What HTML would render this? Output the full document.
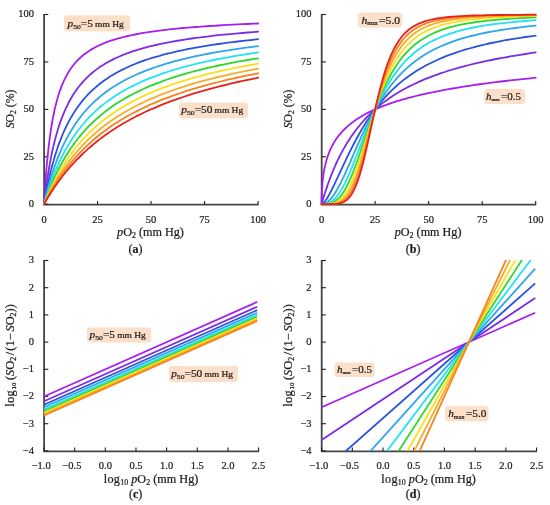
<!DOCTYPE html>
<html><head><meta charset="utf-8"><title>Figure</title><style>html,body{margin:0;padding:0;background:#fff}svg{display:block}</style></head><body>
<svg width="550" height="505" viewBox="0 0 550 505" font-family="'Liberation Serif', 'DejaVu Serif', serif" fill="#1c1c1c" stroke="#1c1c1c" stroke-width="0.22">
<rect width="550" height="505" fill="#fff" stroke="none"/>
<path d="M44.1 14.0V204.7H258.6" fill="none" stroke="#454545" stroke-width="1.8"/>
<path d="M44.00 204.2v-3.3" stroke="#202020" stroke-width="1.1"/>
<text transform="translate(44.00 222.50) scale(0.93 1)" font-size="11.3" text-anchor="middle">0</text>
<path d="M97.53 204.2v-3.3" stroke="#202020" stroke-width="1.1"/>
<text transform="translate(97.53 222.50) scale(0.93 1)" font-size="11.3" text-anchor="middle">25</text>
<path d="M151.05 204.2v-3.3" stroke="#202020" stroke-width="1.1"/>
<text transform="translate(151.05 222.50) scale(0.93 1)" font-size="11.3" text-anchor="middle">50</text>
<path d="M204.57 204.2v-3.3" stroke="#202020" stroke-width="1.1"/>
<text transform="translate(204.57 222.50) scale(0.93 1)" font-size="11.3" text-anchor="middle">75</text>
<path d="M258.10 204.2v-3.3" stroke="#202020" stroke-width="1.1"/>
<text transform="translate(258.10 222.50) scale(0.93 1)" font-size="11.3" text-anchor="middle">100</text>
<path d="M44 204.20h4.3" stroke="#202020" stroke-width="1.1"/>
<text transform="translate(34.00 207.10) scale(0.93 1)" font-size="11.3" text-anchor="end">0</text>
<path d="M44 156.77h4.3" stroke="#202020" stroke-width="1.1"/>
<text transform="translate(34.00 159.67) scale(0.93 1)" font-size="11.3" text-anchor="end">25</text>
<path d="M44 109.35h4.3" stroke="#202020" stroke-width="1.1"/>
<text transform="translate(34.00 112.25) scale(0.93 1)" font-size="11.3" text-anchor="end">50</text>
<path d="M44 61.93h4.3" stroke="#202020" stroke-width="1.1"/>
<text transform="translate(34.00 64.83) scale(0.93 1)" font-size="11.3" text-anchor="end">75</text>
<path d="M44 14.50h4.3" stroke="#202020" stroke-width="1.1"/>
<text transform="translate(34.00 17.40) scale(0.93 1)" font-size="11.3" text-anchor="end">100</text>
<path d="M44.0 204.2 44.0 204.0 44.0 203.3 44.1 202.1 44.2 200.3 44.4 197.9 44.6 194.9 44.8 191.4 45.0 187.4 45.4 182.9 45.7 178.2 46.1 173.1 46.5 167.8 47.0 162.3 47.6 156.8 48.2 151.1 48.8 145.6 49.5 140.0 50.2 134.6 51.0 129.3 51.8 124.1 52.7 119.1 53.7 114.3 54.6 109.6 55.7 105.2 56.8 100.9 57.9 96.9 59.1 93.1 60.4 89.4 61.7 85.9 63.1 82.6 64.5 79.5 66.0 76.6 67.6 73.8 69.1 71.1 70.8 68.6 72.5 66.3 74.3 64.0 76.1 61.9 78.0 59.9 80.0 58.0 82.0 56.2 84.0 54.5 86.2 52.9 88.3 51.4 90.6 49.9 92.9 48.6 95.3 47.3 97.7 46.0 100.2 44.9 102.8 43.7 105.4 42.7 108.0 41.7 110.8 40.7 113.6 39.8 116.5 38.9 119.4 38.1 122.4 37.3 125.4 36.5 128.6 35.8 131.7 35.1 135.0 34.5 138.3 33.8 141.7 33.2 145.1 32.7 148.6 32.1 152.2 31.6 155.9 31.1 159.6 30.6 163.3 30.1 167.2 29.7 171.1 29.2 175.0 28.8 179.1 28.4 183.2 28.0 187.4 27.7 191.6 27.3 195.9 27.0 200.3 26.7 204.7 26.3 209.2 26.0 213.8 25.8 218.5 25.5 223.2 25.2 227.9 24.9 232.8 24.7 237.7 24.4 242.7 24.2 247.8 24.0 252.9 23.7 258.1 23.5" fill="none" stroke="#A61EF0" stroke-width="1.8" stroke-linejoin="round" stroke-linecap="round"/>
<path d="M44.0 204.2 44.0 204.1 44.0 203.8 44.1 203.1 44.2 202.2 44.4 201.0 44.6 199.4 44.8 197.6 45.0 195.4 45.4 192.9 45.7 190.2 46.1 187.3 46.5 184.1 47.0 180.7 47.6 177.1 48.2 173.4 48.8 169.5 49.5 165.6 50.2 161.6 51.0 157.5 51.8 153.4 52.7 149.3 53.7 145.3 54.6 141.2 55.7 137.2 56.8 133.3 57.9 129.4 59.1 125.6 60.4 121.9 61.7 118.3 63.1 114.8 64.5 111.4 66.0 108.0 67.6 104.8 69.1 101.7 70.8 98.7 72.5 95.8 74.3 93.1 76.1 90.4 78.0 87.8 80.0 85.3 82.0 82.9 84.0 80.6 86.2 78.4 88.3 76.3 90.6 74.2 92.9 72.3 95.3 70.4 97.7 68.6 100.2 66.8 102.8 65.2 105.4 63.6 108.0 62.0 110.8 60.6 113.6 59.1 116.5 57.8 119.4 56.5 122.4 55.2 125.4 54.0 128.6 52.8 131.7 51.7 135.0 50.6 138.3 49.6 141.7 48.6 145.1 47.6 148.6 46.7 152.2 45.8 155.9 45.0 159.6 44.2 163.3 43.4 167.2 42.6 171.1 41.9 175.0 41.1 179.1 40.5 183.2 39.8 187.4 39.1 191.6 38.5 195.9 37.9 200.3 37.4 204.7 36.8 209.2 36.3 213.8 35.7 218.5 35.2 223.2 34.7 227.9 34.3 232.8 33.8 237.7 33.4 242.7 33.0 247.8 32.5 252.9 32.1 258.1 31.7" fill="none" stroke="#7A2CE6" stroke-width="1.8" stroke-linejoin="round" stroke-linecap="round"/>
<path d="M44.0 204.2 44.0 204.1 44.0 203.9 44.1 203.5 44.2 202.9 44.4 202.0 44.6 201.0 44.8 199.7 45.0 198.2 45.4 196.5 45.7 194.6 46.1 192.6 46.5 190.3 47.0 187.8 47.6 185.2 48.2 182.5 48.8 179.6 49.5 176.6 50.2 173.5 51.0 170.3 51.8 167.0 52.7 163.7 53.7 160.4 54.6 157.0 55.7 153.6 56.8 150.2 57.9 146.8 59.1 143.4 60.4 140.1 61.7 136.7 63.1 133.5 64.5 130.2 66.0 127.1 67.6 123.9 69.1 120.9 70.8 117.9 72.5 115.0 74.3 112.1 76.1 109.3 78.0 106.6 80.0 104.0 82.0 101.4 84.0 98.9 86.2 96.5 88.3 94.2 90.6 91.9 92.9 89.7 95.3 87.6 97.7 85.5 100.2 83.5 102.8 81.5 105.4 79.7 108.0 77.9 110.8 76.1 113.6 74.4 116.5 72.8 119.4 71.2 122.4 69.6 125.4 68.2 128.6 66.7 131.7 65.3 135.0 64.0 138.3 62.7 141.7 61.4 145.1 60.2 148.6 59.0 152.2 57.9 155.9 56.8 159.6 55.8 163.3 54.7 167.2 53.7 171.1 52.8 175.0 51.8 179.1 50.9 183.2 50.1 187.4 49.2 191.6 48.4 195.9 47.6 200.3 46.8 204.7 46.1 209.2 45.4 213.8 44.7 218.5 44.0 223.2 43.3 227.9 42.7 232.8 42.1 237.7 41.5 242.7 40.9 247.8 40.3 252.9 39.8 258.1 39.2" fill="none" stroke="#2A52E0" stroke-width="1.8" stroke-linejoin="round" stroke-linecap="round"/>
<path d="M44.0 204.2 44.0 204.2 44.0 204.0 44.1 203.7 44.2 203.2 44.4 202.6 44.6 201.8 44.8 200.8 45.0 199.7 45.4 198.4 45.7 196.9 46.1 195.3 46.5 193.6 47.0 191.6 47.6 189.6 48.2 187.4 48.8 185.1 49.5 182.7 50.2 180.2 51.0 177.6 51.8 174.9 52.7 172.1 53.7 169.3 54.6 166.4 55.7 163.5 56.8 160.6 57.9 157.6 59.1 154.6 60.4 151.6 61.7 148.7 63.1 145.7 64.5 142.7 66.0 139.8 67.6 136.9 69.1 134.0 70.8 131.2 72.5 128.4 74.3 125.6 76.1 122.9 78.0 120.2 80.0 117.6 82.0 115.0 84.0 112.5 86.2 110.1 88.3 107.7 90.6 105.3 92.9 103.1 95.3 100.8 97.7 98.7 100.2 96.5 102.8 94.5 105.4 92.5 108.0 90.5 110.8 88.6 113.6 86.8 116.5 85.0 119.4 83.2 122.4 81.5 125.4 79.9 128.6 78.3 131.7 76.7 135.0 75.2 138.3 73.7 141.7 72.3 145.1 70.9 148.6 69.6 152.2 68.3 155.9 67.0 159.6 65.8 163.3 64.6 167.2 63.4 171.1 62.3 175.0 61.2 179.1 60.2 183.2 59.1 187.4 58.1 191.6 57.2 195.9 56.2 200.3 55.3 204.7 54.4 209.2 53.5 213.8 52.7 218.5 51.9 223.2 51.1 227.9 50.3 232.8 49.6 237.7 48.8 242.7 48.1 247.8 47.4 252.9 46.8 258.1 46.1" fill="none" stroke="#2EA6EC" stroke-width="1.8" stroke-linejoin="round" stroke-linecap="round"/>
<path d="M44.0 204.2 44.0 204.2 44.0 204.0 44.1 203.8 44.2 203.4 44.4 202.9 44.6 202.3 44.8 201.5 45.0 200.6 45.4 199.5 45.7 198.3 46.1 197.0 46.5 195.6 47.0 194.0 47.6 192.3 48.2 190.5 48.8 188.6 49.5 186.6 50.2 184.5 51.0 182.3 51.8 180.0 52.7 177.6 53.7 175.2 54.6 172.7 55.7 170.2 56.8 167.6 57.9 165.0 59.1 162.4 60.4 159.7 61.7 157.0 63.1 154.3 64.5 151.6 66.0 148.9 67.6 146.2 69.1 143.6 70.8 140.9 72.5 138.3 74.3 135.6 76.1 133.1 78.0 130.5 80.0 128.0 82.0 125.5 84.0 123.0 86.2 120.6 88.3 118.2 90.6 115.9 92.9 113.6 95.3 111.4 97.7 109.2 100.2 107.0 102.8 104.9 105.4 102.9 108.0 100.9 110.8 98.9 113.6 97.0 116.5 95.1 119.4 93.3 122.4 91.5 125.4 89.7 128.6 88.0 131.7 86.4 135.0 84.8 138.3 83.2 141.7 81.6 145.1 80.2 148.6 78.7 152.2 77.3 155.9 75.9 159.6 74.6 163.3 73.2 167.2 72.0 171.1 70.7 175.0 69.5 179.1 68.3 183.2 67.2 187.4 66.1 191.6 65.0 195.9 63.9 200.3 62.9 204.7 61.9 209.2 60.9 213.8 60.0 218.5 59.0 223.2 58.1 227.9 57.3 232.8 56.4 237.7 55.6 242.7 54.8 247.8 54.0 252.9 53.2 258.1 52.4" fill="none" stroke="#22E2F2" stroke-width="1.8" stroke-linejoin="round" stroke-linecap="round"/>
<path d="M44.0 204.2 44.0 204.2 44.0 204.1 44.1 203.8 44.2 203.5 44.4 203.1 44.6 202.6 44.8 201.9 45.0 201.2 45.4 200.3 45.7 199.3 46.1 198.2 46.5 197.0 47.0 195.6 47.6 194.2 48.2 192.7 48.8 191.0 49.5 189.3 50.2 187.5 51.0 185.6 51.8 183.6 52.7 181.5 53.7 179.4 54.6 177.2 55.7 175.0 56.8 172.7 57.9 170.4 59.1 168.0 60.4 165.6 61.7 163.2 63.1 160.7 64.5 158.3 66.0 155.8 67.6 153.3 69.1 150.8 70.8 148.3 72.5 145.9 74.3 143.4 76.1 141.0 78.0 138.5 80.0 136.1 82.0 133.7 84.0 131.4 86.2 129.0 88.3 126.7 90.6 124.4 92.9 122.2 95.3 120.0 97.7 117.8 100.2 115.7 102.8 113.6 105.4 111.5 108.0 109.5 110.8 107.5 113.6 105.6 116.5 103.6 119.4 101.8 122.4 99.9 125.4 98.1 128.6 96.4 131.7 94.7 135.0 93.0 138.3 91.4 141.7 89.8 145.1 88.2 148.6 86.7 152.2 85.2 155.9 83.7 159.6 82.3 163.3 80.9 167.2 79.5 171.1 78.2 175.0 76.9 179.1 75.6 183.2 74.4 187.4 73.2 191.6 72.0 195.9 70.9 200.3 69.8 204.7 68.7 209.2 67.6 213.8 66.6 218.5 65.5 223.2 64.6 227.9 63.6 232.8 62.7 237.7 61.7 242.7 60.8 247.8 60.0 252.9 59.1 258.1 58.3" fill="none" stroke="#2CD82C" stroke-width="1.8" stroke-linejoin="round" stroke-linecap="round"/>
<path d="M44.0 204.2 44.0 204.2 44.0 204.1 44.1 203.9 44.2 203.6 44.4 203.3 44.6 202.8 44.8 202.3 45.0 201.6 45.4 200.8 45.7 200.0 46.1 199.0 46.5 198.0 47.0 196.8 47.6 195.6 48.2 194.2 48.8 192.8 49.5 191.3 50.2 189.7 51.0 188.0 51.8 186.3 52.7 184.4 53.7 182.6 54.6 180.6 55.7 178.6 56.8 176.5 57.9 174.4 59.1 172.3 60.4 170.1 61.7 167.9 63.1 165.7 64.5 163.4 66.0 161.1 67.6 158.8 69.1 156.5 70.8 154.2 72.5 151.9 74.3 149.6 76.1 147.3 78.0 145.0 80.0 142.7 82.0 140.4 84.0 138.1 86.2 135.9 88.3 133.7 90.6 131.5 92.9 129.3 95.3 127.1 97.7 125.0 100.2 122.9 102.8 120.8 105.4 118.8 108.0 116.8 110.8 114.8 113.6 112.9 116.5 110.9 119.4 109.1 122.4 107.2 125.4 105.4 128.6 103.6 131.7 101.9 135.0 100.2 138.3 98.5 141.7 96.8 145.1 95.2 148.6 93.7 152.2 92.1 155.9 90.6 159.6 89.1 163.3 87.7 167.2 86.3 171.1 84.9 175.0 83.5 179.1 82.2 183.2 80.9 187.4 79.6 191.6 78.4 195.9 77.2 200.3 76.0 204.7 74.8 209.2 73.7 213.8 72.6 218.5 71.5 223.2 70.4 227.9 69.4 232.8 68.4 237.7 67.4 242.7 66.4 247.8 65.5 252.9 64.6 258.1 63.7" fill="none" stroke="#F8E01C" stroke-width="1.8" stroke-linejoin="round" stroke-linecap="round"/>
<path d="M44.0 204.2 44.0 204.2 44.0 204.1 44.1 203.9 44.2 203.7 44.4 203.4 44.6 203.0 44.8 202.5 45.0 201.9 45.4 201.3 45.7 200.5 46.1 199.7 46.5 198.7 47.0 197.7 47.6 196.6 48.2 195.4 48.8 194.2 49.5 192.8 50.2 191.4 51.0 189.9 51.8 188.3 52.7 186.7 53.7 185.0 54.6 183.2 55.7 181.4 56.8 179.6 57.9 177.6 59.1 175.7 60.4 173.7 61.7 171.7 63.1 169.6 64.5 167.5 66.0 165.4 67.6 163.3 69.1 161.1 70.8 159.0 72.5 156.8 74.3 154.6 76.1 152.5 78.0 150.3 80.0 148.1 82.0 145.9 84.0 143.8 86.2 141.6 88.3 139.5 90.6 137.4 92.9 135.2 95.3 133.2 97.7 131.1 100.2 129.0 102.8 127.0 105.4 125.0 108.0 123.0 110.8 121.1 113.6 119.2 116.5 117.3 119.4 115.4 122.4 113.5 125.4 111.7 128.6 110.0 131.7 108.2 135.0 106.5 138.3 104.8 141.7 103.1 145.1 101.5 148.6 99.9 152.2 98.3 155.9 96.8 159.6 95.2 163.3 93.8 167.2 92.3 171.1 90.9 175.0 89.5 179.1 88.1 183.2 86.8 187.4 85.4 191.6 84.2 195.9 82.9 200.3 81.7 204.7 80.4 209.2 79.3 213.8 78.1 218.5 77.0 223.2 75.9 227.9 74.8 232.8 73.7 237.7 72.7 242.7 71.6 247.8 70.6 252.9 69.7 258.1 68.7" fill="none" stroke="#F6AE2A" stroke-width="1.8" stroke-linejoin="round" stroke-linecap="round"/>
<path d="M44.0 204.2 44.0 204.2 44.0 204.1 44.1 204.0 44.2 203.8 44.4 203.5 44.6 203.1 44.8 202.7 45.0 202.2 45.4 201.6 45.7 200.9 46.1 200.2 46.5 199.3 47.0 198.4 47.6 197.4 48.2 196.4 48.8 195.2 49.5 194.0 50.2 192.7 51.0 191.4 51.8 189.9 52.7 188.5 53.7 186.9 54.6 185.3 55.7 183.7 56.8 182.0 57.9 180.2 59.1 178.4 60.4 176.6 61.7 174.7 63.1 172.8 64.5 170.9 66.0 168.9 67.6 166.9 69.1 164.9 70.8 162.9 72.5 160.9 74.3 158.8 76.1 156.8 78.0 154.7 80.0 152.6 82.0 150.6 84.0 148.5 86.2 146.5 88.3 144.4 90.6 142.4 92.9 140.3 95.3 138.3 97.7 136.3 100.2 134.3 102.8 132.3 105.4 130.4 108.0 128.5 110.8 126.5 113.6 124.6 116.5 122.8 119.4 120.9 122.4 119.1 125.4 117.3 128.6 115.5 131.7 113.8 135.0 112.1 138.3 110.4 141.7 108.7 145.1 107.1 148.6 105.4 152.2 103.8 155.9 102.3 159.6 100.7 163.3 99.2 167.2 97.8 171.1 96.3 175.0 94.9 179.1 93.5 183.2 92.1 187.4 90.7 191.6 89.4 195.9 88.1 200.3 86.8 204.7 85.6 209.2 84.4 213.8 83.2 218.5 82.0 223.2 80.8 227.9 79.7 232.8 78.6 237.7 77.5 242.7 76.4 247.8 75.4 252.9 74.4 258.1 73.4" fill="none" stroke="#F8821E" stroke-width="1.8" stroke-linejoin="round" stroke-linecap="round"/>
<path d="M44.0 204.2 44.0 204.2 44.0 204.1 44.1 204.0 44.2 203.8 44.4 203.5 44.6 203.2 44.8 202.8 45.0 202.4 45.4 201.8 45.7 201.2 46.1 200.5 46.5 199.8 47.0 199.0 47.6 198.1 48.2 197.1 48.8 196.1 49.5 195.0 50.2 193.8 51.0 192.6 51.8 191.3 52.7 189.9 53.7 188.5 54.6 187.0 55.7 185.5 56.8 184.0 57.9 182.3 59.1 180.7 60.4 179.0 61.7 177.3 63.1 175.5 64.5 173.7 66.0 171.8 67.6 170.0 69.1 168.1 70.8 166.2 72.5 164.3 74.3 162.4 76.1 160.4 78.0 158.5 80.0 156.5 82.0 154.5 84.0 152.6 86.2 150.6 88.3 148.6 90.6 146.7 92.9 144.7 95.3 142.8 97.7 140.8 100.2 138.9 102.8 137.0 105.4 135.1 108.0 133.2 110.8 131.3 113.6 129.5 116.5 127.6 119.4 125.8 122.4 124.0 125.4 122.2 128.6 120.5 131.7 118.8 135.0 117.0 138.3 115.4 141.7 113.7 145.1 112.0 148.6 110.4 152.2 108.8 155.9 107.3 159.6 105.7 163.3 104.2 167.2 102.7 171.1 101.2 175.0 99.8 179.1 98.4 183.2 97.0 187.4 95.6 191.6 94.2 195.9 92.9 200.3 91.6 204.7 90.3 209.2 89.1 213.8 87.9 218.5 86.6 223.2 85.5 227.9 84.3 232.8 83.1 237.7 82.0 242.7 80.9 247.8 79.8 252.9 78.8 258.1 77.7" fill="none" stroke="#E8221E" stroke-width="1.8" stroke-linejoin="round" stroke-linecap="round"/>
<text transform="translate(150.50 236.30) scale(1.04 1)" font-size="11.7" text-anchor="middle"><tspan font-style="italic">p</tspan>O<tspan font-size="7.6" dy="2">2</tspan><tspan dy="-2"> (mm Hg)</tspan></text>
<text transform="translate(13.90 109.00) rotate(-90)" font-size="11.7" text-anchor="middle"><tspan font-style="italic">S</tspan>O<tspan font-size="7.6" dy="2">2</tspan><tspan dy="-2"> (%)</tspan></text>
<text transform="translate(135.60 252.60)" font-size="12" text-anchor="middle">(<tspan font-weight="bold">a</tspan>)</text>
<path d="M321.70000000000005 14.0V204.7H536.2" fill="none" stroke="#454545" stroke-width="1.8"/>
<path d="M321.60 204.2v-3.3" stroke="#202020" stroke-width="1.1"/>
<text transform="translate(321.60 222.50) scale(0.93 1)" font-size="11.3" text-anchor="middle">0</text>
<path d="M375.12 204.2v-3.3" stroke="#202020" stroke-width="1.1"/>
<text transform="translate(375.12 222.50) scale(0.93 1)" font-size="11.3" text-anchor="middle">25</text>
<path d="M428.65 204.2v-3.3" stroke="#202020" stroke-width="1.1"/>
<text transform="translate(428.65 222.50) scale(0.93 1)" font-size="11.3" text-anchor="middle">50</text>
<path d="M482.18 204.2v-3.3" stroke="#202020" stroke-width="1.1"/>
<text transform="translate(482.18 222.50) scale(0.93 1)" font-size="11.3" text-anchor="middle">75</text>
<path d="M535.70 204.2v-3.3" stroke="#202020" stroke-width="1.1"/>
<text transform="translate(535.70 222.50) scale(0.93 1)" font-size="11.3" text-anchor="middle">100</text>
<path d="M321.6 204.20h4.3" stroke="#202020" stroke-width="1.1"/>
<text transform="translate(311.60 207.10) scale(0.93 1)" font-size="11.3" text-anchor="end">0</text>
<path d="M321.6 156.77h4.3" stroke="#202020" stroke-width="1.1"/>
<text transform="translate(311.60 159.67) scale(0.93 1)" font-size="11.3" text-anchor="end">25</text>
<path d="M321.6 109.35h4.3" stroke="#202020" stroke-width="1.1"/>
<text transform="translate(311.60 112.25) scale(0.93 1)" font-size="11.3" text-anchor="end">50</text>
<path d="M321.6 61.93h4.3" stroke="#202020" stroke-width="1.1"/>
<text transform="translate(311.60 64.83) scale(0.93 1)" font-size="11.3" text-anchor="end">75</text>
<path d="M321.6 14.50h4.3" stroke="#202020" stroke-width="1.1"/>
<text transform="translate(311.60 17.40) scale(0.93 1)" font-size="11.3" text-anchor="end">100</text>
<path d="M321.6 204.2 321.6 201.5 321.6 198.6 321.7 195.6 321.8 192.6 322.0 189.6 322.2 186.7 322.4 183.8 322.6 181.0 323.0 178.2 323.3 175.5 323.7 172.8 324.1 170.2 324.6 167.7 325.2 165.3 325.8 162.9 326.4 160.5 327.1 158.2 327.8 156.0 328.6 153.8 329.4 151.7 330.3 149.7 331.3 147.7 332.2 145.7 333.3 143.8 334.4 141.9 335.5 140.1 336.7 138.3 338.0 136.6 339.3 134.9 340.7 133.3 342.1 131.7 343.6 130.1 345.2 128.5 346.7 127.1 348.4 125.6 350.1 124.2 351.9 122.8 353.7 121.4 355.6 120.1 357.6 118.8 359.6 117.5 361.6 116.2 363.8 115.0 365.9 113.8 368.2 112.6 370.5 111.5 372.9 110.4 375.3 109.3 377.8 108.2 380.4 107.1 383.0 106.1 385.6 105.1 388.4 104.1 391.2 103.1 394.1 102.2 397.0 101.2 400.0 100.3 403.0 99.4 406.2 98.6 409.3 97.7 412.6 96.8 415.9 96.0 419.3 95.2 422.7 94.4 426.2 93.6 429.8 92.8 433.5 92.1 437.2 91.3 440.9 90.6 444.8 89.9 448.7 89.2 452.6 88.5 456.7 87.8 460.8 87.1 465.0 86.4 469.2 85.8 473.5 85.2 477.9 84.5 482.3 83.9 486.8 83.3 491.4 82.7 496.1 82.1 500.8 81.5 505.5 81.0 510.4 80.4 515.3 79.9 520.3 79.3 525.4 78.8 530.5 78.3 535.7 77.7" fill="none" stroke="#A61EF0" stroke-width="1.8" stroke-linejoin="round" stroke-linecap="round"/>
<path d="M321.6 204.2 321.6 204.2 321.6 204.0 321.7 203.8 321.8 203.4 322.0 202.9 322.2 202.3 322.4 201.5 322.6 200.6 323.0 199.5 323.3 198.3 323.7 197.0 324.1 195.6 324.6 194.0 325.2 192.3 325.8 190.5 326.4 188.6 327.1 186.6 327.8 184.5 328.6 182.3 329.4 180.0 330.3 177.6 331.3 175.2 332.2 172.7 333.3 170.2 334.4 167.6 335.5 165.0 336.7 162.4 338.0 159.7 339.3 157.0 340.7 154.3 342.1 151.6 343.6 148.9 345.2 146.2 346.7 143.6 348.4 140.9 350.1 138.3 351.9 135.6 353.7 133.1 355.6 130.5 357.6 128.0 359.6 125.5 361.6 123.0 363.8 120.6 365.9 118.2 368.2 115.9 370.5 113.6 372.9 111.4 375.3 109.2 377.8 107.0 380.4 104.9 383.0 102.9 385.6 100.9 388.4 98.9 391.2 97.0 394.1 95.1 397.0 93.3 400.0 91.5 403.0 89.7 406.2 88.0 409.3 86.4 412.6 84.8 415.9 83.2 419.3 81.6 422.7 80.2 426.2 78.7 429.8 77.3 433.5 75.9 437.2 74.6 440.9 73.2 444.8 72.0 448.7 70.7 452.6 69.5 456.7 68.3 460.8 67.2 465.0 66.1 469.2 65.0 473.5 63.9 477.9 62.9 482.3 61.9 486.8 60.9 491.4 60.0 496.1 59.0 500.8 58.1 505.5 57.3 510.4 56.4 515.3 55.6 520.3 54.8 525.4 54.0 530.5 53.2 535.7 52.4" fill="none" stroke="#7A2CE6" stroke-width="1.8" stroke-linejoin="round" stroke-linecap="round"/>
<path d="M321.6 204.2 321.6 204.2 321.6 204.2 321.7 204.2 321.8 204.1 322.0 204.1 322.2 204.0 322.4 203.9 322.6 203.7 323.0 203.4 323.3 203.1 323.7 202.7 324.1 202.3 324.6 201.7 325.2 201.0 325.8 200.2 326.4 199.3 327.1 198.2 327.8 197.0 328.6 195.6 329.4 194.2 330.3 192.5 331.3 190.7 332.2 188.7 333.3 186.6 334.4 184.4 335.5 181.9 336.7 179.4 338.0 176.7 339.3 173.8 340.7 170.9 342.1 167.8 343.6 164.6 345.2 161.3 346.7 158.0 348.4 154.6 350.1 151.1 351.9 147.6 353.7 144.0 355.6 140.4 357.6 136.8 359.6 133.3 361.6 129.7 363.8 126.1 365.9 122.6 368.2 119.2 370.5 115.8 372.9 112.4 375.3 109.1 377.8 105.9 380.4 102.7 383.0 99.7 385.6 96.7 388.4 93.7 391.2 90.9 394.1 88.2 397.0 85.5 400.0 82.9 403.0 80.4 406.2 78.0 409.3 75.7 412.6 73.5 415.9 71.3 419.3 69.2 422.7 67.2 426.2 65.3 429.8 63.5 433.5 61.7 437.2 60.0 440.9 58.3 444.8 56.7 448.7 55.2 452.6 53.8 456.7 52.4 460.8 51.0 465.0 49.7 469.2 48.5 473.5 47.3 477.9 46.2 482.3 45.1 486.8 44.0 491.4 43.0 496.1 42.1 500.8 41.1 505.5 40.2 510.4 39.4 515.3 38.6 520.3 37.8 525.4 37.0 530.5 36.3 535.7 35.6" fill="none" stroke="#2A52E0" stroke-width="1.8" stroke-linejoin="round" stroke-linecap="round"/>
<path d="M321.6 204.2 321.6 204.2 321.6 204.2 321.7 204.2 321.8 204.2 322.0 204.2 322.2 204.2 322.4 204.2 322.6 204.1 323.0 204.1 323.3 204.0 323.7 203.9 324.1 203.8 324.6 203.6 325.2 203.4 325.8 203.1 326.4 202.7 327.1 202.2 327.8 201.7 328.6 201.0 329.4 200.2 330.3 199.3 331.3 198.2 332.2 197.0 333.3 195.6 334.4 194.0 335.5 192.2 336.7 190.1 338.0 187.9 339.3 185.5 340.7 182.8 342.1 179.9 343.6 176.8 345.2 173.4 346.7 169.9 348.4 166.2 350.1 162.3 351.9 158.2 353.7 154.0 355.6 149.6 357.6 145.2 359.6 140.7 361.6 136.1 363.8 131.6 365.9 127.0 368.2 122.4 370.5 117.9 372.9 113.4 375.3 109.0 377.8 104.7 380.4 100.5 383.0 96.5 385.6 92.5 388.4 88.7 391.2 85.0 394.1 81.5 397.0 78.1 400.0 74.8 403.0 71.7 406.2 68.8 409.3 65.9 412.6 63.3 415.9 60.7 419.3 58.3 422.7 56.0 426.2 53.8 429.8 51.8 433.5 49.8 437.2 48.0 440.9 46.3 444.8 44.6 448.7 43.1 452.6 41.6 456.7 40.2 460.8 38.9 465.0 37.7 469.2 36.5 473.5 35.5 477.9 34.4 482.3 33.4 486.8 32.5 491.4 31.6 496.1 30.8 500.8 30.0 505.5 29.3 510.4 28.6 515.3 28.0 520.3 27.3 525.4 26.7 530.5 26.2 535.7 25.7" fill="none" stroke="#2EA6EC" stroke-width="1.8" stroke-linejoin="round" stroke-linecap="round"/>
<path d="M321.6 204.2 321.6 204.2 321.6 204.2 321.7 204.2 321.8 204.2 322.0 204.2 322.2 204.2 322.4 204.2 322.6 204.2 323.0 204.2 323.3 204.2 323.7 204.1 324.1 204.1 324.6 204.1 325.2 204.0 325.8 203.9 326.4 203.7 327.1 203.6 327.8 203.3 328.6 203.0 329.4 202.7 330.3 202.2 331.3 201.6 332.2 200.9 333.3 200.1 334.4 199.1 335.5 197.9 336.7 196.5 338.0 194.8 339.3 192.9 340.7 190.8 342.1 188.4 343.6 185.6 345.2 182.6 346.7 179.3 348.4 175.6 350.1 171.6 351.9 167.4 353.7 162.8 355.6 158.0 357.6 153.0 359.6 147.7 361.6 142.3 363.8 136.8 365.9 131.2 368.2 125.6 370.5 120.0 372.9 114.4 375.3 109.0 377.8 103.6 380.4 98.4 383.0 93.3 385.6 88.4 388.4 83.8 391.2 79.3 394.1 75.1 397.0 71.1 400.0 67.3 403.0 63.7 406.2 60.4 409.3 57.2 412.6 54.3 415.9 51.5 419.3 49.0 422.7 46.6 426.2 44.4 429.8 42.3 433.5 40.4 437.2 38.7 440.9 37.0 444.8 35.5 448.7 34.1 452.6 32.8 456.7 31.6 460.8 30.4 465.0 29.4 469.2 28.4 473.5 27.5 477.9 26.7 482.3 25.9 486.8 25.2 491.4 24.5 496.1 23.9 500.8 23.3 505.5 22.8 510.4 22.3 515.3 21.8 520.3 21.4 525.4 21.0 530.5 20.6 535.7 20.2" fill="none" stroke="#22E2F2" stroke-width="1.8" stroke-linejoin="round" stroke-linecap="round"/>
<path d="M321.6 204.2 321.6 204.2 321.6 204.2 321.7 204.2 321.8 204.2 322.0 204.2 322.2 204.2 322.4 204.2 322.6 204.2 323.0 204.2 323.3 204.2 323.7 204.2 324.1 204.2 324.6 204.2 325.2 204.1 325.8 204.1 326.4 204.1 327.1 204.0 327.8 203.9 328.6 203.8 329.4 203.6 330.3 203.4 331.3 203.1 332.2 202.7 333.3 202.2 334.4 201.6 335.5 200.9 336.7 200.0 338.0 198.9 339.3 197.6 340.7 196.0 342.1 194.1 343.6 191.9 345.2 189.3 346.7 186.4 348.4 183.0 350.1 179.3 351.9 175.1 353.7 170.5 355.6 165.5 357.6 160.1 359.6 154.3 361.6 148.2 363.8 141.9 365.9 135.4 368.2 128.8 370.5 122.1 372.9 115.5 375.3 108.9 377.8 102.4 380.4 96.2 383.0 90.2 385.6 84.4 388.4 79.0 391.2 73.8 394.1 69.0 397.0 64.5 400.0 60.3 403.0 56.4 406.2 52.9 409.3 49.6 412.6 46.6 415.9 43.8 419.3 41.3 422.7 39.0 426.2 36.9 429.8 35.0 433.5 33.2 437.2 31.6 440.9 30.2 444.8 28.9 448.7 27.7 452.6 26.6 456.7 25.6 460.8 24.7 465.0 23.9 469.2 23.1 473.5 22.5 477.9 21.8 482.3 21.3 486.8 20.7 491.4 20.3 496.1 19.8 500.8 19.4 505.5 19.1 510.4 18.7 515.3 18.4 520.3 18.1 525.4 17.9 530.5 17.6 535.7 17.4" fill="none" stroke="#2CD82C" stroke-width="1.8" stroke-linejoin="round" stroke-linecap="round"/>
<path d="M321.6 204.2 321.6 204.2 321.6 204.2 321.7 204.2 321.8 204.2 322.0 204.2 322.2 204.2 322.4 204.2 322.6 204.2 323.0 204.2 323.3 204.2 323.7 204.2 324.1 204.2 324.6 204.2 325.2 204.2 325.8 204.2 326.4 204.2 327.1 204.1 327.8 204.1 328.6 204.0 329.4 204.0 330.3 203.9 331.3 203.7 332.2 203.5 333.3 203.3 334.4 202.9 335.5 202.5 336.7 201.9 338.0 201.2 339.3 200.3 340.7 199.2 342.1 197.8 343.6 196.1 345.2 194.1 346.7 191.6 348.4 188.7 350.1 185.3 351.9 181.4 353.7 177.0 355.6 172.0 357.6 166.4 359.6 160.4 361.6 153.8 363.8 146.8 365.9 139.5 368.2 131.9 370.5 124.2 372.9 116.5 375.3 108.8 377.8 101.3 380.4 94.0 383.0 87.1 385.6 80.5 388.4 74.3 391.2 68.6 394.1 63.3 397.0 58.5 400.0 54.0 403.0 50.0 406.2 46.4 409.3 43.1 412.6 40.1 415.9 37.5 419.3 35.1 422.7 33.0 426.2 31.1 429.8 29.4 433.5 27.9 437.2 26.5 440.9 25.3 444.8 24.2 448.7 23.3 452.6 22.4 456.7 21.6 460.8 21.0 465.0 20.3 469.2 19.8 473.5 19.3 477.9 18.9 482.3 18.5 486.8 18.1 491.4 17.8 496.1 17.5 500.8 17.2 505.5 17.0 510.4 16.8 515.3 16.6 520.3 16.4 525.4 16.2 530.5 16.1 535.7 16.0" fill="none" stroke="#F8E01C" stroke-width="1.8" stroke-linejoin="round" stroke-linecap="round"/>
<path d="M321.6 204.2 321.6 204.2 321.6 204.2 321.7 204.2 321.8 204.2 322.0 204.2 322.2 204.2 322.4 204.2 322.6 204.2 323.0 204.2 323.3 204.2 323.7 204.2 324.1 204.2 324.6 204.2 325.2 204.2 325.8 204.2 326.4 204.2 327.1 204.2 327.8 204.2 328.6 204.1 329.4 204.1 330.3 204.1 331.3 204.0 332.2 203.9 333.3 203.8 334.4 203.6 335.5 203.3 336.7 203.0 338.0 202.5 339.3 201.9 340.7 201.2 342.1 200.2 343.6 198.9 345.2 197.3 346.7 195.4 348.4 193.0 350.1 190.0 351.9 186.6 353.7 182.4 355.6 177.6 357.6 172.1 359.6 165.9 361.6 159.0 363.8 151.5 365.9 143.4 368.2 135.0 370.5 126.3 372.9 117.5 375.3 108.7 377.8 100.1 380.4 91.9 383.0 84.0 385.6 76.7 388.4 69.9 391.2 63.7 394.1 58.0 397.0 52.9 400.0 48.4 403.0 44.3 406.2 40.7 409.3 37.6 412.6 34.8 415.9 32.3 419.3 30.2 422.7 28.3 426.2 26.7 429.8 25.2 433.5 24.0 437.2 22.8 440.9 21.9 444.8 21.0 448.7 20.3 452.6 19.6 456.7 19.1 460.8 18.6 465.0 18.1 469.2 17.7 473.5 17.4 477.9 17.1 482.3 16.8 486.8 16.6 491.4 16.4 496.1 16.2 500.8 16.0 505.5 15.9 510.4 15.7 515.3 15.6 520.3 15.5 525.4 15.4 530.5 15.3 535.7 15.2" fill="none" stroke="#F6AE2A" stroke-width="1.8" stroke-linejoin="round" stroke-linecap="round"/>
<path d="M321.6 204.2 321.6 204.2 321.6 204.2 321.7 204.2 321.8 204.2 322.0 204.2 322.2 204.2 322.4 204.2 322.6 204.2 323.0 204.2 323.3 204.2 323.7 204.2 324.1 204.2 324.6 204.2 325.2 204.2 325.8 204.2 326.4 204.2 327.1 204.2 327.8 204.2 328.6 204.2 329.4 204.2 330.3 204.1 331.3 204.1 332.2 204.1 333.3 204.0 334.4 203.9 335.5 203.8 336.7 203.6 338.0 203.3 339.3 202.9 340.7 202.4 342.1 201.7 343.6 200.8 345.2 199.6 346.7 198.1 348.4 196.1 350.1 193.7 351.9 190.6 353.7 186.9 355.6 182.4 357.6 177.1 359.6 170.9 361.6 163.8 363.8 155.9 365.9 147.3 368.2 138.0 370.5 128.4 372.9 118.5 375.3 108.6 377.8 99.0 380.4 89.8 383.0 81.1 385.6 73.0 388.4 65.7 391.2 59.1 394.1 53.2 397.0 48.0 400.0 43.4 403.0 39.4 406.2 36.0 409.3 33.0 412.6 30.5 415.9 28.3 419.3 26.4 422.7 24.7 426.2 23.4 429.8 22.2 433.5 21.1 437.2 20.3 440.9 19.5 444.8 18.9 448.7 18.3 452.6 17.8 456.7 17.4 460.8 17.0 465.0 16.7 469.2 16.5 473.5 16.2 477.9 16.0 482.3 15.8 486.8 15.7 491.4 15.5 496.1 15.4 500.8 15.3 505.5 15.2 510.4 15.2 515.3 15.1 520.3 15.0 525.4 15.0 530.5 14.9 535.7 14.9" fill="none" stroke="#F8821E" stroke-width="1.8" stroke-linejoin="round" stroke-linecap="round"/>
<path d="M321.6 204.2 321.6 204.2 321.6 204.2 321.7 204.2 321.8 204.2 322.0 204.2 322.2 204.2 322.4 204.2 322.6 204.2 323.0 204.2 323.3 204.2 323.7 204.2 324.1 204.2 324.6 204.2 325.2 204.2 325.8 204.2 326.4 204.2 327.1 204.2 327.8 204.2 328.6 204.2 329.4 204.2 330.3 204.2 331.3 204.2 332.2 204.1 333.3 204.1 334.4 204.1 335.5 204.0 336.7 203.9 338.0 203.7 339.3 203.4 340.7 203.1 342.1 202.6 343.6 202.0 345.2 201.1 346.7 200.0 348.4 198.4 350.1 196.4 351.9 193.8 353.7 190.5 355.6 186.4 357.6 181.4 359.6 175.3 361.6 168.2 363.8 160.1 365.9 150.9 368.2 141.0 370.5 130.4 372.9 119.5 375.3 108.6 377.8 97.9 380.4 87.6 383.0 78.1 385.6 69.4 388.4 61.6 391.2 54.7 394.1 48.7 397.0 43.5 400.0 39.0 403.0 35.2 406.2 32.0 409.3 29.3 412.6 27.0 415.9 25.1 419.3 23.4 422.7 22.1 426.2 20.9 429.8 20.0 433.5 19.1 437.2 18.5 440.9 17.9 444.8 17.4 448.7 17.0 452.6 16.6 456.7 16.3 460.8 16.1 465.0 15.9 469.2 15.7 473.5 15.5 477.9 15.4 482.3 15.3 486.8 15.2 491.4 15.1 496.1 15.0 500.8 15.0 505.5 14.9 510.4 14.8 515.3 14.8 520.3 14.8 525.4 14.7 530.5 14.7 535.7 14.7" fill="none" stroke="#E8221E" stroke-width="1.8" stroke-linejoin="round" stroke-linecap="round"/>
<text transform="translate(428.10 236.30) scale(1.04 1)" font-size="11.7" text-anchor="middle"><tspan font-style="italic">p</tspan>O<tspan font-size="7.6" dy="2">2</tspan><tspan dy="-2"> (mm Hg)</tspan></text>
<text transform="translate(291.50 109.00) rotate(-90)" font-size="11.7" text-anchor="middle"><tspan font-style="italic">S</tspan>O<tspan font-size="7.6" dy="2">2</tspan><tspan dy="-2"> (%)</tspan></text>
<text transform="translate(413.20 252.60)" font-size="12" text-anchor="middle">(<tspan font-weight="bold">b</tspan>)</text>
<path d="M44.1 260.0V451.4H259.1" fill="none" stroke="#454545" stroke-width="1.8"/>
<path d="M44.00 450.9v-3.3" stroke="#202020" stroke-width="1.1"/>
<text transform="translate(41.20 469.10) scale(0.93 1)" font-size="11.3" text-anchor="middle">−1.0</text>
<path d="M74.66 450.9v-3.3" stroke="#202020" stroke-width="1.1"/>
<text transform="translate(71.86 469.10) scale(0.93 1)" font-size="11.3" text-anchor="middle">−0.5</text>
<path d="M105.31 450.9v-3.3" stroke="#202020" stroke-width="1.1"/>
<text transform="translate(105.31 469.10) scale(0.93 1)" font-size="11.3" text-anchor="middle">0.0</text>
<path d="M135.97 450.9v-3.3" stroke="#202020" stroke-width="1.1"/>
<text transform="translate(135.97 469.10) scale(0.93 1)" font-size="11.3" text-anchor="middle">0.5</text>
<path d="M166.63 450.9v-3.3" stroke="#202020" stroke-width="1.1"/>
<text transform="translate(166.63 469.10) scale(0.93 1)" font-size="11.3" text-anchor="middle">1.0</text>
<path d="M197.29 450.9v-3.3" stroke="#202020" stroke-width="1.1"/>
<text transform="translate(197.29 469.10) scale(0.93 1)" font-size="11.3" text-anchor="middle">1.5</text>
<path d="M227.94 450.9v-3.3" stroke="#202020" stroke-width="1.1"/>
<text transform="translate(227.94 469.10) scale(0.93 1)" font-size="11.3" text-anchor="middle">2.0</text>
<path d="M258.60 450.9v-3.3" stroke="#202020" stroke-width="1.1"/>
<text transform="translate(258.60 469.10) scale(0.93 1)" font-size="11.3" text-anchor="middle">2.5</text>
<path d="M44 450.90h4.3" stroke="#202020" stroke-width="1.1"/>
<text transform="translate(34.00 453.80) scale(0.93 1)" font-size="11.3" text-anchor="end">−4</text>
<path d="M44 423.70h4.3" stroke="#202020" stroke-width="1.1"/>
<text transform="translate(34.00 426.60) scale(0.93 1)" font-size="11.3" text-anchor="end">−3</text>
<path d="M44 396.50h4.3" stroke="#202020" stroke-width="1.1"/>
<text transform="translate(34.00 399.40) scale(0.93 1)" font-size="11.3" text-anchor="end">−2</text>
<path d="M44 369.30h4.3" stroke="#202020" stroke-width="1.1"/>
<text transform="translate(34.00 372.20) scale(0.93 1)" font-size="11.3" text-anchor="end">−1</text>
<path d="M44 342.10h4.3" stroke="#202020" stroke-width="1.1"/>
<text transform="translate(34.00 345.00) scale(0.93 1)" font-size="11.3" text-anchor="end">0</text>
<path d="M44 314.90h4.3" stroke="#202020" stroke-width="1.1"/>
<text transform="translate(34.00 317.80) scale(0.93 1)" font-size="11.3" text-anchor="end">1</text>
<path d="M44 287.70h4.3" stroke="#202020" stroke-width="1.1"/>
<text transform="translate(34.00 290.60) scale(0.93 1)" font-size="11.3" text-anchor="end">2</text>
<path d="M44 260.50h4.3" stroke="#202020" stroke-width="1.1"/>
<text transform="translate(34.00 263.40) scale(0.93 1)" font-size="11.3" text-anchor="end">3</text>
<clipPath id="cp0"><rect x="43" y="260.0" width="217.60000000000002" height="190.89999999999998"/></clipPath>
<g clip-path="url(#cp0)">
<path d="M44.0 396.5 257.2 301.9" fill="none" stroke="#A61EF0" stroke-width="1.8" stroke-linejoin="round" stroke-linecap="butt"/>
<path d="M44.0 401.3 257.2 306.7" fill="none" stroke="#7A2CE6" stroke-width="1.8" stroke-linejoin="round" stroke-linecap="butt"/>
<path d="M44.0 404.7 257.2 310.1" fill="none" stroke="#2A52E0" stroke-width="1.8" stroke-linejoin="round" stroke-linecap="butt"/>
<path d="M44.0 407.3 257.2 312.7" fill="none" stroke="#2EA6EC" stroke-width="1.8" stroke-linejoin="round" stroke-linecap="butt"/>
<path d="M44.0 409.5 257.2 314.9" fill="none" stroke="#22E2F2" stroke-width="1.8" stroke-linejoin="round" stroke-linecap="butt"/>
<path d="M44.0 411.3 257.2 316.7" fill="none" stroke="#2CD82C" stroke-width="1.8" stroke-linejoin="round" stroke-linecap="butt"/>
<path d="M44.0 412.9 257.2 318.3" fill="none" stroke="#F8E01C" stroke-width="1.8" stroke-linejoin="round" stroke-linecap="butt"/>
<path d="M44.0 414.3 257.2 319.7" fill="none" stroke="#F6AE2A" stroke-width="1.8" stroke-linejoin="round" stroke-linecap="butt"/>
<path d="M44.0 415.5 257.2 320.9" fill="none" stroke="#F8821E" stroke-width="1.8" stroke-linejoin="round" stroke-linecap="butt"/>
</g>
<text transform="translate(151.00 482.50) scale(1.045 1)" font-size="11.7" text-anchor="middle"><tspan letter-spacing="0.3">log</tspan><tspan font-size="7.6" dy="2">10</tspan><tspan dy="-2"> </tspan><tspan font-style="italic">p</tspan>O<tspan font-size="7.6" dy="2">2</tspan><tspan dy="-2"> (mm Hg)</tspan></text>
<text transform="translate(14.30 355.50) rotate(-90) scale(1.057 1)" font-size="11.7" text-anchor="middle"><tspan letter-spacing="0.4">log</tspan><tspan font-size="6.6" dy="2" dx="0.3">10</tspan><tspan dy="-2" dx="-0.6"> (</tspan><tspan font-style="italic">S</tspan>O<tspan font-size="7.6" dy="2">2</tspan><tspan dy="-2" dx="1.4">/</tspan><tspan dx="1.2">(1</tspan><tspan dx="0.3">−</tspan><tspan dx="1.5"><tspan font-style="italic">S</tspan></tspan>O<tspan font-size="7.6" dy="2">2</tspan><tspan dy="-2">))</tspan></text>
<text transform="translate(135.60 498.30)" font-size="12" text-anchor="middle">(<tspan font-weight="bold">c</tspan>)</text>
<path d="M321.70000000000005 260.0V451.4H537.1" fill="none" stroke="#454545" stroke-width="1.8"/>
<path d="M321.60 450.9v-3.3" stroke="#202020" stroke-width="1.1"/>
<text transform="translate(318.80 469.10) scale(0.93 1)" font-size="11.3" text-anchor="middle">−1.0</text>
<path d="M352.31 450.9v-3.3" stroke="#202020" stroke-width="1.1"/>
<text transform="translate(349.51 469.10) scale(0.93 1)" font-size="11.3" text-anchor="middle">−0.5</text>
<path d="M383.03 450.9v-3.3" stroke="#202020" stroke-width="1.1"/>
<text transform="translate(383.03 469.10) scale(0.93 1)" font-size="11.3" text-anchor="middle">0.0</text>
<path d="M413.74 450.9v-3.3" stroke="#202020" stroke-width="1.1"/>
<text transform="translate(413.74 469.10) scale(0.93 1)" font-size="11.3" text-anchor="middle">0.5</text>
<path d="M444.46 450.9v-3.3" stroke="#202020" stroke-width="1.1"/>
<text transform="translate(444.46 469.10) scale(0.93 1)" font-size="11.3" text-anchor="middle">1.0</text>
<path d="M475.17 450.9v-3.3" stroke="#202020" stroke-width="1.1"/>
<text transform="translate(475.17 469.10) scale(0.93 1)" font-size="11.3" text-anchor="middle">1.5</text>
<path d="M505.89 450.9v-3.3" stroke="#202020" stroke-width="1.1"/>
<text transform="translate(505.89 469.10) scale(0.93 1)" font-size="11.3" text-anchor="middle">2.0</text>
<path d="M536.60 450.9v-3.3" stroke="#202020" stroke-width="1.1"/>
<text transform="translate(536.60 469.10) scale(0.93 1)" font-size="11.3" text-anchor="middle">2.5</text>
<path d="M321.6 450.90h4.3" stroke="#202020" stroke-width="1.1"/>
<text transform="translate(311.60 453.80) scale(0.93 1)" font-size="11.3" text-anchor="end">−4</text>
<path d="M321.6 423.70h4.3" stroke="#202020" stroke-width="1.1"/>
<text transform="translate(311.60 426.60) scale(0.93 1)" font-size="11.3" text-anchor="end">−3</text>
<path d="M321.6 396.50h4.3" stroke="#202020" stroke-width="1.1"/>
<text transform="translate(311.60 399.40) scale(0.93 1)" font-size="11.3" text-anchor="end">−2</text>
<path d="M321.6 369.30h4.3" stroke="#202020" stroke-width="1.1"/>
<text transform="translate(311.60 372.20) scale(0.93 1)" font-size="11.3" text-anchor="end">−1</text>
<path d="M321.6 342.10h4.3" stroke="#202020" stroke-width="1.1"/>
<text transform="translate(311.60 345.00) scale(0.93 1)" font-size="11.3" text-anchor="end">0</text>
<path d="M321.6 314.90h4.3" stroke="#202020" stroke-width="1.1"/>
<text transform="translate(311.60 317.80) scale(0.93 1)" font-size="11.3" text-anchor="end">1</text>
<path d="M321.6 287.70h4.3" stroke="#202020" stroke-width="1.1"/>
<text transform="translate(311.60 290.60) scale(0.93 1)" font-size="11.3" text-anchor="end">2</text>
<path d="M321.6 260.50h4.3" stroke="#202020" stroke-width="1.1"/>
<text transform="translate(311.60 263.40) scale(0.93 1)" font-size="11.3" text-anchor="end">3</text>
<clipPath id="cp1"><rect x="320.6" y="260.0" width="218.0" height="190.89999999999998"/></clipPath>
<g clip-path="url(#cp1)">
<path d="M321.6 407.3 535.2 312.7" fill="none" stroke="#A61EF0" stroke-width="1.8" stroke-linejoin="round" stroke-linecap="butt"/>
<path d="M321.6 439.9 535.2 298.1" fill="none" stroke="#7A2CE6" stroke-width="1.8" stroke-linejoin="round" stroke-linecap="butt"/>
<path d="M321.6 472.5 535.2 283.4" fill="none" stroke="#2A52E0" stroke-width="1.8" stroke-linejoin="round" stroke-linecap="butt"/>
<path d="M321.6 505.2 535.2 268.7" fill="none" stroke="#2EA6EC" stroke-width="1.8" stroke-linejoin="round" stroke-linecap="butt"/>
<path d="M321.6 537.8 535.2 254.0" fill="none" stroke="#22E2F2" stroke-width="1.8" stroke-linejoin="round" stroke-linecap="butt"/>
<path d="M321.6 570.4 535.2 239.4" fill="none" stroke="#2CD82C" stroke-width="1.8" stroke-linejoin="round" stroke-linecap="butt"/>
<path d="M321.6 603.0 535.2 224.7" fill="none" stroke="#F8E01C" stroke-width="1.8" stroke-linejoin="round" stroke-linecap="butt"/>
<path d="M321.6 635.6 535.2 210.0" fill="none" stroke="#F6AE2A" stroke-width="1.8" stroke-linejoin="round" stroke-linecap="butt"/>
<path d="M321.6 668.2 535.2 195.3" fill="none" stroke="#F8821E" stroke-width="1.8" stroke-linejoin="round" stroke-linecap="butt"/>
</g>
<text transform="translate(428.60 482.50) scale(1.045 1)" font-size="11.7" text-anchor="middle"><tspan letter-spacing="0.3">log</tspan><tspan font-size="7.6" dy="2">10</tspan><tspan dy="-2"> </tspan><tspan font-style="italic">p</tspan>O<tspan font-size="7.6" dy="2">2</tspan><tspan dy="-2"> (mm Hg)</tspan></text>
<text transform="translate(291.90 355.50) rotate(-90) scale(1.057 1)" font-size="11.7" text-anchor="middle"><tspan letter-spacing="0.4">log</tspan><tspan font-size="6.6" dy="2" dx="0.3">10</tspan><tspan dy="-2" dx="-0.6"> (</tspan><tspan font-style="italic">S</tspan>O<tspan font-size="7.6" dy="2">2</tspan><tspan dy="-2" dx="1.4">/</tspan><tspan dx="1.2">(1</tspan><tspan dx="0.3">−</tspan><tspan dx="1.5"><tspan font-style="italic">S</tspan></tspan>O<tspan font-size="7.6" dy="2">2</tspan><tspan dy="-2">))</tspan></text>
<text transform="translate(413.20 498.30)" font-size="12" text-anchor="middle">(<tspan font-weight="bold">d</tspan>)</text>
<rect x="64" y="15.3" width="66" height="16.0" rx="3" fill="#FBDFC8" stroke="none"/>
<text transform="translate(67.50 27.00) scale(1.1 1)" font-size="10.3" text-anchor="start"><tspan font-style="italic">p</tspan><tspan font-size="7" dy="1.6">50</tspan><tspan dy="-1.6">=5</tspan><tspan font-size="8.6" dx="2.0">mm Hg</tspan></text>
<rect x="179" y="102.5" width="69" height="15.799999999999997" rx="3" fill="#FBDFC8" stroke="none"/>
<text transform="translate(181.30 113.30) scale(1.1 1)" font-size="10.3" text-anchor="start"><tspan font-style="italic">p</tspan><tspan font-size="7" dy="1.6">50</tspan><tspan dy="-1.6">=50</tspan><tspan font-size="8.6" dx="2.0">mm Hg</tspan></text>
<rect x="358" y="12.5" width="44" height="15.0" rx="3" fill="#FBDFC8" stroke="none"/>
<text transform="translate(361.50 23.50) scale(1.08 1)" font-size="10.8" text-anchor="start"><tspan font-style="italic">h</tspan><tspan font-size="5.6" dy="1.2">max</tspan><tspan dy="-1.2" dx="1.2">=5.0</tspan></text>
<rect x="484" y="89" width="41" height="15" rx="3" fill="#FBDFC8" stroke="none"/>
<text transform="translate(485.90 100.00) scale(1.02 1)" font-size="10.8" text-anchor="start"><tspan font-style="italic">h</tspan><tspan font-size="4.8" dy="1.2">max</tspan><tspan dy="-1.2" dx="1.2">=0.5</tspan></text>
<rect x="87" y="327.5" width="64" height="15.0" rx="3" fill="#FBDFC8" stroke="none"/>
<text transform="translate(89.60 338.10) scale(1.1 1)" font-size="10.3" text-anchor="start"><tspan font-style="italic">p</tspan><tspan font-size="7" dy="1.6">50</tspan><tspan dy="-1.6">=5</tspan><tspan font-size="8.6" dx="2.0">mm Hg</tspan></text>
<rect x="169" y="366" width="69" height="16" rx="3" fill="#FBDFC8" stroke="none"/>
<text transform="translate(171.20 376.90) scale(1.1 1)" font-size="10.3" text-anchor="start"><tspan font-style="italic">p</tspan><tspan font-size="7" dy="1.6">50</tspan><tspan dy="-1.6">=50</tspan><tspan font-size="8.6" dx="2.0">mm Hg</tspan></text>
<rect x="334.5" y="362.5" width="40.0" height="14.5" rx="3" fill="#FBDFC8" stroke="none"/>
<text transform="translate(336.90 373.20) scale(1.02 1)" font-size="10.8" text-anchor="start"><tspan font-style="italic">h</tspan><tspan font-size="4.8" dy="1.2">max</tspan><tspan dy="-1.2" dx="1.2">=0.5</tspan></text>
<rect x="445" y="406" width="43.5" height="15.300000000000011" rx="3" fill="#FBDFC8" stroke="none"/>
<text transform="translate(448.20 417.30) scale(1.05 1)" font-size="10.8" text-anchor="start"><tspan font-style="italic">h</tspan><tspan font-size="6.0" dy="1.2">max</tspan><tspan dy="-1.2" dx="1.2">=5.0</tspan></text>
</svg>
</body></html>
